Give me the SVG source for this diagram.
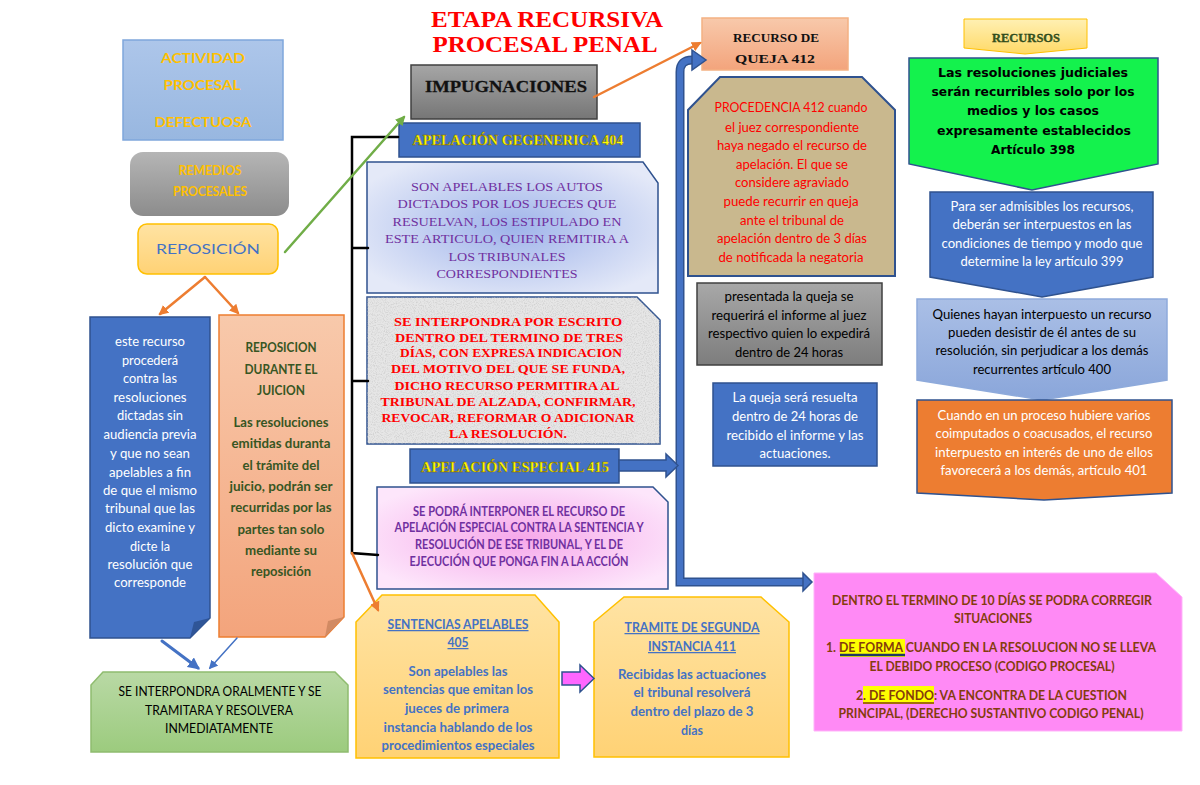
<svg xmlns="http://www.w3.org/2000/svg" width="1200" height="785" viewBox="0 0 1200 785">
<style>
text{text-anchor:middle}
.lt{font-family:Lato,"Liberation Sans",sans-serif;font-size:12.5px}
.ltb{font-family:Lato,"Liberation Sans",sans-serif;font-size:12.5px;font-weight:bold}
.sr{font-family:"Liberation Serif",serif;font-size:12.5px}
.srb{font-family:"Liberation Serif",serif;font-weight:bold}
.yel{fill:#ffff00;stroke:#7f6000;stroke-width:0.4px;font-family:"Liberation Serif",serif;font-weight:bold;font-size:14.5px}
.w{fill:#ffffff}
.k{fill:#000000}
.blue{fill:#4472c4;stroke:#2f528f;stroke-width:1.5}
.con{fill:none;stroke-linecap:round}
</style>
<defs>
<linearGradient id="gAct" x1="0" y1="0" x2="0" y2="1"><stop offset="0" stop-color="#adc6ea"/><stop offset="1" stop-color="#98b7e0"/></linearGradient>
<linearGradient id="gRem" x1="0" y1="0" x2="0" y2="1"><stop offset="0" stop-color="#b5b5b5"/><stop offset="1" stop-color="#8c8c8c"/></linearGradient>
<linearGradient id="gImp" x1="0" y1="0" x2="0" y2="1"><stop offset="0" stop-color="#a6a6a6"/><stop offset="1" stop-color="#767676"/></linearGradient>
<linearGradient id="gGr2" x1="0" y1="0" x2="0" y2="1"><stop offset="0" stop-color="#a8a8a8"/><stop offset="1" stop-color="#7d7d7d"/></linearGradient>
<linearGradient id="gYel" x1="0" y1="0" x2="0" y2="1"><stop offset="0" stop-color="#ffe3a3"/><stop offset="1" stop-color="#ffd275"/></linearGradient>
<linearGradient id="gSal" x1="0" y1="0" x2="0" y2="1"><stop offset="0" stop-color="#f8c9ab"/><stop offset="1" stop-color="#f3a47c"/></linearGradient>
<linearGradient id="gGrn" x1="0" y1="0" x2="0" y2="1"><stop offset="0" stop-color="#b9d9a5"/><stop offset="1" stop-color="#9ccb7e"/></linearGradient>
<linearGradient id="gLb" x1="0" y1="0" x2="0" y2="1"><stop offset="0" stop-color="#aabfe6"/><stop offset="1" stop-color="#8aa6da"/></linearGradient>
<linearGradient id="gRec" x1="0" y1="0" x2="0" y2="1"><stop offset="0" stop-color="#fff0b3"/><stop offset="1" stop-color="#ffd966"/></linearGradient>
<radialGradient id="gLav" cx="0.5" cy="0.5" r="0.6"><stop offset="0" stop-color="#9fb4ea"/><stop offset="1" stop-color="#e4e9f8"/></radialGradient>
<radialGradient id="gPnk" cx="0.5" cy="0.5" r="0.6"><stop offset="0" stop-color="#f6a8ea"/><stop offset="1" stop-color="#fde6fb"/></radialGradient>
<filter id="speckle" x="0" y="0" width="100%" height="100%">
<feTurbulence type="fractalNoise" baseFrequency="0.9" numOctaves="2" seed="3"/>
<feColorMatrix type="matrix" values="0 0 0 0 0.55  0 0 0 0 0.55  0 0 0 0 0.55  0 0 0 1.6 -0.7"/>
<feComposite in2="SourceGraphic" operator="in"/>
</filter>
<marker id="aO" viewBox="0 0 10 10" refX="8" refY="5" markerWidth="4" markerHeight="4" orient="auto"><path d="M0,0 L10,5 L0,10 z" fill="#ed7d31"/></marker>
<marker id="aG" viewBox="0 0 10 10" refX="8" refY="5" markerWidth="4" markerHeight="4" orient="auto"><path d="M0,0 L10,5 L0,10 z" fill="#70ad47"/></marker>
<marker id="aB" viewBox="0 0 10 10" refX="8" refY="5" markerWidth="4" markerHeight="4" orient="auto"><path d="M0,0 L10,5 L0,10 z" fill="#4472c4"/></marker>
<marker id="aB2" viewBox="0 0 10 10" refX="8" refY="5" markerWidth="6" markerHeight="6" orient="auto"><path d="M0,0 L10,5 L0,10 z" fill="#4472c4"/></marker>
</defs>

<g id="title" class="srb" fill="#ff0000" font-size="24">
<text x="547" y="27" textLength="232" lengthAdjust="spacingAndGlyphs">ETAPA RECURSIVA</text>
<text x="545" y="52" textLength="225" lengthAdjust="spacingAndGlyphs">PROCESAL PENAL</text>
</g>

<g id="actividad">
<rect x="123" y="40" width="160" height="100" fill="url(#gAct)" stroke="#7fa7dc" stroke-width="1.5"/>
<g class="ltb" fill="#ffc000" font-size="14">
<text x="203" y="63" textLength="84" lengthAdjust="spacingAndGlyphs">ACTIVIDAD</text>
<text x="202" y="90" textLength="77" lengthAdjust="spacingAndGlyphs">PROCESAL</text>
<text x="203" y="127" textLength="97" lengthAdjust="spacingAndGlyphs">DEFECTUOSA</text>
</g>
</g>

<g id="remedios">
<rect x="130" y="152" width="159" height="64" rx="13" fill="url(#gRem)"/>
<g class="ltb" fill="#ffc000" font-size="12">
<text x="210" y="175" textLength="63" lengthAdjust="spacingAndGlyphs">REMEDIOS</text>
<text x="210" y="196" textLength="74" lengthAdjust="spacingAndGlyphs">PROCESALES</text>
</g>
</g>

<g id="reposicion">
<rect x="138" y="224" width="140" height="50" rx="9" fill="url(#gYel)" stroke="#ffc000" stroke-width="1.5"/>
<text class="lt" x="208" y="254" fill="#4472c4" font-size="19" textLength="104" lengthAdjust="spacingAndGlyphs">REPOSICIÓN</text>
</g>

<g id="nota-recurso">
<polygon points="90,317 210,317 210,618 190,638 90,638" fill="#4472c4" stroke="#2f528f" stroke-width="1.5"/>
<polygon points="190,638 210,618 194,622" fill="#2f5597"/>
<g class="lt w">
<text x="150" y="346" textLength="70" lengthAdjust="spacingAndGlyphs">este recurso</text>
<text x="150" y="365" textLength="56" lengthAdjust="spacingAndGlyphs">procederá</text>
<text x="150" y="383" textLength="54" lengthAdjust="spacingAndGlyphs">contra las</text>
<text x="150" y="402" textLength="73" lengthAdjust="spacingAndGlyphs">resoluciones</text>
<text x="150" y="420" textLength="66" lengthAdjust="spacingAndGlyphs">dictadas sin</text>
<text x="150" y="439" textLength="93" lengthAdjust="spacingAndGlyphs">audiencia previa</text>
<text x="150" y="458" textLength="80" lengthAdjust="spacingAndGlyphs">y que no sean</text>
<text x="150" y="477" textLength="82" lengthAdjust="spacingAndGlyphs">apelables a fin</text>
<text x="150" y="495" textLength="94" lengthAdjust="spacingAndGlyphs">de que el mismo</text>
<text x="150" y="513" textLength="90" lengthAdjust="spacingAndGlyphs">tribunal que las</text>
<text x="150" y="532" textLength="90" lengthAdjust="spacingAndGlyphs">dicto examine y</text>
<text x="150" y="551" textLength="40" lengthAdjust="spacingAndGlyphs">dicte la</text>
<text x="150" y="569" textLength="85" lengthAdjust="spacingAndGlyphs">resolución que</text>
<text x="150" y="587" textLength="72" lengthAdjust="spacingAndGlyphs">corresponde</text>
</g>
</g>

<g id="nota-juicio">
<polygon points="219,315 344,315 344,617 325,637 219,637" fill="url(#gSal)" stroke="#ed7d31" stroke-width="1.5"/>
<polygon points="325,637 344,617 328,621" fill="#d18a63"/>
<g class="ltb" fill="#375623">
<text x="281" y="352" textLength="71" lengthAdjust="spacingAndGlyphs">REPOSICION</text>
<text x="281" y="374" textLength="73" lengthAdjust="spacingAndGlyphs">DURANTE EL</text>
<text x="281" y="395" textLength="48" lengthAdjust="spacingAndGlyphs">JUICION</text>
<text x="281" y="427" textLength="95" lengthAdjust="spacingAndGlyphs">Las resoluciones</text>
<text x="281" y="448" textLength="99" lengthAdjust="spacingAndGlyphs">emitidas duranta</text>
<text x="281" y="470" textLength="77" lengthAdjust="spacingAndGlyphs">el trámite del</text>
<text x="281" y="491" textLength="103" lengthAdjust="spacingAndGlyphs">juicio, podrán ser</text>
<text x="281" y="512" textLength="101" lengthAdjust="spacingAndGlyphs">recurridas por las</text>
<text x="281" y="534" textLength="87" lengthAdjust="spacingAndGlyphs">partes tan solo</text>
<text x="281" y="555" textLength="72" lengthAdjust="spacingAndGlyphs">mediante su</text>
<text x="281" y="576" textLength="60" lengthAdjust="spacingAndGlyphs">reposición</text>
</g>
</g>

<g id="oral">
<polygon points="103,672 335,672 348,685 348,752 91,752 91,685" fill="url(#gGrn)" stroke="#8fbc6f" stroke-width="1.5"/>
<g class="lt k" font-size="12">
<text x="220" y="696" textLength="203" lengthAdjust="spacingAndGlyphs">SE INTERPONDRA ORALMENTE Y SE</text>
<text x="219" y="715" textLength="148" lengthAdjust="spacingAndGlyphs">TRAMITARA Y RESOLVERA</text>
<text x="219" y="733" textLength="108" lengthAdjust="spacingAndGlyphs">INMEDIATAMENTE</text>
</g>
</g>

<g id="impugnaciones">
<rect x="411" y="65" width="186" height="54" fill="url(#gImp)" stroke="#404040" stroke-width="1.5"/>
<text class="srb" x="506" y="92" font-size="17" fill="#111" stroke="#111" stroke-width="0.3" textLength="162" lengthAdjust="spacingAndGlyphs">IMPUGNACIONES</text>
</g>

<g id="apelacion-generica">
<rect x="399" y="123" width="241" height="34" fill="#4472c4" stroke="#2f528f" stroke-width="1.5"/>
<text class="yel" x="518" y="145" textLength="211" lengthAdjust="spacingAndGlyphs">APELACIÓN GEGENERICA 404</text>
</g>

<g id="son-apelables">
<polygon points="367,162 643,162 658,183 658,293 367,293" fill="url(#gLav)" stroke="#2f528f" stroke-width="1.5"/>
<g class="sr" fill="#7030a0">
<text x="507" y="191" textLength="192" lengthAdjust="spacingAndGlyphs">SON APELABLES LOS AUTOS</text>
<text x="507" y="208" textLength="219" lengthAdjust="spacingAndGlyphs">DICTADOS POR LOS JUECES QUE</text>
<text x="507" y="226" textLength="229" lengthAdjust="spacingAndGlyphs">RESUELVAN, LOS ESTIPULADO EN</text>
<text x="507" y="243" textLength="244" lengthAdjust="spacingAndGlyphs">ESTE ARTICULO, QUIEN REMITIRA A</text>
<text x="507" y="261" textLength="117" lengthAdjust="spacingAndGlyphs">LOS TRIBUNALES</text>
<text x="507" y="278" textLength="141" lengthAdjust="spacingAndGlyphs">CORRESPONDIENTES</text>
</g>
</g>

<g id="por-escrito">
<polygon points="367,297 637,297 660,320 660,444 367,444" fill="#e6e6e6" stroke="#2f528f" stroke-width="1.5"/>
<polygon points="367,297 637,297 660,320 660,444 367,444" fill="#fff" filter="url(#speckle)"/>
<g class="srb" fill="#ff0000" font-size="12">
<text x="508" y="326" textLength="228" lengthAdjust="spacingAndGlyphs">SE INTERPONDRA POR ESCRITO</text>
<text x="509" y="342" textLength="228" lengthAdjust="spacingAndGlyphs">DENTRO DEL TERMINO DE TRES</text>
<text x="511" y="357" textLength="222" lengthAdjust="spacingAndGlyphs">DÍAS, CON EXPRESA INDICACION</text>
<text x="508" y="373" textLength="234" lengthAdjust="spacingAndGlyphs">DEL MOTIVO DEL QUE SE FUNDA,</text>
<text x="507" y="390" textLength="225" lengthAdjust="spacingAndGlyphs">DICHO RECURSO PERMITIRA AL</text>
<text x="508" y="406" textLength="255" lengthAdjust="spacingAndGlyphs">TRIBUNAL DE ALZADA, CONFIRMAR,</text>
<text x="508" y="422" textLength="253" lengthAdjust="spacingAndGlyphs">REVOCAR, REFORMAR O ADICIONAR</text>
<text x="508" y="438" textLength="118" lengthAdjust="spacingAndGlyphs">LA RESOLUCIÓN.</text>
</g>
</g>

<g id="apelacion-especial">
<rect x="410" y="449" width="209" height="34" fill="#4472c4" stroke="#2f528f" stroke-width="1.5"/>
<text class="yel" x="515" y="472" textLength="188" lengthAdjust="spacingAndGlyphs">APELACIÓN ESPECIAL 415</text>
</g>

<g id="se-podra">
<polygon points="377,487 653,487 668,502 668,589 377,589" fill="url(#gPnk)" stroke="#2f528f" stroke-width="1.5"/>
<g class="ltb" fill="#7030a0" font-size="11">
<text x="519" y="516" textLength="212" lengthAdjust="spacingAndGlyphs">SE PODRÁ INTERPONER EL RECURSO DE</text>
<text x="519" y="532" textLength="249" lengthAdjust="spacingAndGlyphs">APELACIÓN ESPECIAL CONTRA LA SENTENCIA Y</text>
<text x="519" y="549" textLength="208" lengthAdjust="spacingAndGlyphs">RESOLUCIÓN DE ESE TRIBUNAL, Y EL DE</text>
<text x="519" y="566" textLength="219" lengthAdjust="spacingAndGlyphs">EJECUCIÓN QUE PONGA FIN A LA ACCIÓN</text>
</g>
</g>

<g id="sentencias">
<polygon points="382,595 535,595 559,622 559,758 356,758 356,622" fill="url(#gYel)" stroke="#ffc000" stroke-width="1.5"/>
<g class="ltb" fill="#4472c4" font-size="12">
<text x="458" y="629" text-decoration="underline" textLength="141" lengthAdjust="spacingAndGlyphs">SENTENCIAS APELABLES</text>
<text x="458" y="647" text-decoration="underline" textLength="21" lengthAdjust="spacingAndGlyphs">405</text>
<text x="458" y="676" textLength="99" lengthAdjust="spacingAndGlyphs">Son apelables las</text>
<text x="458" y="694" textLength="150" lengthAdjust="spacingAndGlyphs">sentencias que emitan los</text>
<text x="457" y="713" textLength="104" lengthAdjust="spacingAndGlyphs">jueces de primera</text>
<text x="458" y="732" textLength="149" lengthAdjust="spacingAndGlyphs">instancia hablando de los</text>
<text x="458" y="750" textLength="153" lengthAdjust="spacingAndGlyphs">procedimientos especiales</text>
</g>
</g>

<g id="tramite">
<polygon points="624,597 761,597 789,622 789,757 594,757 594,622" fill="url(#gYel)" stroke="#ffc000" stroke-width="1.5"/>
<g class="ltb" fill="#4472c4" font-size="12">
<text x="692" y="632" text-decoration="underline" textLength="135" lengthAdjust="spacingAndGlyphs">TRAMITE DE SEGUNDA</text>
<text x="692" y="651" text-decoration="underline" textLength="88" lengthAdjust="spacingAndGlyphs">INSTANCIA 411</text>
<text x="692" y="679" textLength="148" lengthAdjust="spacingAndGlyphs">Recibidas las actuaciones</text>
<text x="692" y="697" textLength="117" lengthAdjust="spacingAndGlyphs">el tribunal resolverá</text>
<text x="692" y="716" textLength="123" lengthAdjust="spacingAndGlyphs">dentro del plazo de 3</text>
<text x="692" y="735" textLength="22" lengthAdjust="spacingAndGlyphs">días</text>
</g>
</g>

<g id="dentro-10-dias">
<polygon points="814,573 1156,573 1182,597 1182,731 814,731" fill="#ff8af5" stroke="#ffb3f9" stroke-width="1"/>
<rect x="840" y="639" width="65" height="18" fill="#ffff00"/>
<rect x="863" y="686" width="71" height="18" fill="#ffff00"/>
<g class="ltb" fill="#843c0c" font-size="11.5">
<text x="992" y="605" textLength="320" lengthAdjust="spacingAndGlyphs">DENTRO EL TERMINO DE 10 DÍAS SE PODRA CORREGIR</text>
<text x="993" y="623" textLength="78" lengthAdjust="spacingAndGlyphs">SITUACIONES</text>
<text x="826" y="652" style="text-anchor:start" textLength="330" lengthAdjust="spacingAndGlyphs">1. DE FORMA CUANDO EN LA RESOLUCION NO SE LLEVA</text>
<text x="992" y="671" textLength="245" lengthAdjust="spacingAndGlyphs">EL DEBIDO PROCESO (CODIGO PROCESAL)</text>
<text x="856" y="700" style="text-anchor:start" textLength="271" lengthAdjust="spacingAndGlyphs">2. DE FONDO: VA ENCONTRA DE LA CUESTION</text>
<text x="991" y="718" textLength="305" lengthAdjust="spacingAndGlyphs">PRINCIPAL, (DERECHO SUSTANTIVO CODIGO PENAL)</text>
</g>
<line x1="840" y1="655" x2="905" y2="655" stroke="#1f3864" stroke-width="2.5"/>
<line x1="863" y1="703" x2="934" y2="703" stroke="#843c0c" stroke-width="1.5"/>
</g>

<g id="recurso-queja">
<rect x="702" y="18" width="146" height="52" fill="url(#gSal)" stroke="#f4b183" stroke-width="1.5"/>
<g class="srb" fill="#111" font-size="12.5">
<text x="776" y="41.5" textLength="86" lengthAdjust="spacingAndGlyphs">RECURSO DE</text>
<text x="775" y="62.5" textLength="80" lengthAdjust="spacingAndGlyphs">QUEJA 412</text>
</g>
</g>

<g id="procedencia">
<polygon points="720,77 862,77 895,110 895,276 688,276 688,110" fill="#c9b88e" stroke="#2f528f" stroke-width="2"/>
<g class="lt" fill="#ff0000">
<text x="791" y="112" textLength="153" lengthAdjust="spacingAndGlyphs">PROCEDENCIA 412 cuando</text>
<text x="792" y="132" textLength="134" lengthAdjust="spacingAndGlyphs">el juez correspondiente</text>
<text x="792" y="150" textLength="150" lengthAdjust="spacingAndGlyphs">haya negado el recurso de</text>
<text x="792" y="169" textLength="112" lengthAdjust="spacingAndGlyphs">apelación. El que se</text>
<text x="792" y="187" textLength="114" lengthAdjust="spacingAndGlyphs">considere agraviado</text>
<text x="791" y="206" textLength="135" lengthAdjust="spacingAndGlyphs">puede recurrir en queja</text>
<text x="792" y="225" textLength="104" lengthAdjust="spacingAndGlyphs">ante el tribunal de</text>
<text x="792" y="243" textLength="150" lengthAdjust="spacingAndGlyphs">apelación dentro de 3 días</text>
<text x="791" y="262" textLength="145" lengthAdjust="spacingAndGlyphs">de notificada la negatoria</text>
</g>
</g>

<g id="presentada">
<rect x="697" y="283" width="185" height="82" fill="url(#gGr2)" stroke="#404040" stroke-width="1.5"/>
<g class="lt k">
<text x="789" y="301" textLength="129" lengthAdjust="spacingAndGlyphs">presentada la queja se</text>
<text x="789" y="320" textLength="155" lengthAdjust="spacingAndGlyphs">requerirá el informe al juez</text>
<text x="789" y="338" textLength="162" lengthAdjust="spacingAndGlyphs">respectivo quien lo expedirá</text>
<text x="789" y="357" textLength="108" lengthAdjust="spacingAndGlyphs">dentro de 24 horas</text>
</g>
</g>

<g id="resuelta">
<rect x="713" y="383" width="164" height="83" fill="#4472c4" stroke="#2f528f" stroke-width="1.5"/>
<g class="lt w">
<text x="795" y="402" textLength="125" lengthAdjust="spacingAndGlyphs">La queja será resuelta</text>
<text x="795" y="421" textLength="126" lengthAdjust="spacingAndGlyphs">dentro de 24 horas de</text>
<text x="795" y="440" textLength="137" lengthAdjust="spacingAndGlyphs">recibido el informe y las</text>
<text x="795" y="458" textLength="71" lengthAdjust="spacingAndGlyphs">actuaciones.</text>
</g>
</g>

<g id="recursos">
<polygon points="964,19 1087,19 1087,48 1025,54 964,48" fill="url(#gRec)" stroke="#ffc000" stroke-width="1"/>
<text class="srb" x="1026" y="42" font-size="13.5" fill="#385723" stroke="#1e3a10" stroke-width="0.3" textLength="68" lengthAdjust="spacingAndGlyphs">RECURSOS</text>
</g>

<g id="articulo-398">
<polygon points="909,58 1158,58 1158,164 1032,190 909,164" fill="#14f24d" stroke="#2f528f" stroke-width="1.5"/>
<g font-family="'DejaVu Sans', sans-serif" font-weight="bold" font-size="12.5" fill="#000">
<text x="1033" y="77" textLength="190" lengthAdjust="spacingAndGlyphs">Las resoluciones judiciales</text>
<text x="1033" y="96" textLength="203" lengthAdjust="spacingAndGlyphs">serán recurribles solo por los</text>
<text x="1033" y="115" textLength="132" lengthAdjust="spacingAndGlyphs">medios y los casos</text>
<text x="1034" y="135" textLength="194" lengthAdjust="spacingAndGlyphs">expresamente establecidos</text>
<text x="1033" y="154" textLength="84" lengthAdjust="spacingAndGlyphs">Artículo 398</text>
</g>
</g>

<g id="articulo-399">
<polygon points="930,192 1153,192 1153,277 1042,297 930,277" fill="#4472c4" stroke="#2f528f" stroke-width="1.5"/>
<g class="lt w">
<text x="1042" y="211" textLength="183" lengthAdjust="spacingAndGlyphs">Para ser admisibles los recursos,</text>
<text x="1042" y="229" textLength="179" lengthAdjust="spacingAndGlyphs">deberán ser interpuestos en las</text>
<text x="1042" y="248" textLength="201" lengthAdjust="spacingAndGlyphs">condiciones de tiempo y modo que</text>
<text x="1042" y="266" textLength="163" lengthAdjust="spacingAndGlyphs">determine la ley artículo 399</text>
</g>
</g>

<g id="articulo-400">
<polygon points="917,299 1167,299 1167,380 1042,400 917,380" fill="url(#gLb)" stroke="#8eaadb" stroke-width="1.5"/>
<g class="lt k">
<text x="1042" y="319" textLength="219" lengthAdjust="spacingAndGlyphs">Quienes hayan interpuesto un recurso</text>
<text x="1042" y="337" textLength="188" lengthAdjust="spacingAndGlyphs">pueden desistir de él antes de su</text>
<text x="1042" y="355" textLength="213" lengthAdjust="spacingAndGlyphs">resolución, sin perjudicar a los demás</text>
<text x="1042" y="374" textLength="138" lengthAdjust="spacingAndGlyphs">recurrentes artículo 400</text>
</g>
</g>

<g id="articulo-401">
<polygon points="917,400 1172,400 1172,493 1044,500 917,493" fill="#ed7d31" stroke="#2f528f" stroke-width="1.5"/>
<g class="lt w">
<text x="1044" y="420" textLength="213" lengthAdjust="spacingAndGlyphs">Cuando en un proceso hubiere varios</text>
<text x="1044" y="438" textLength="217" lengthAdjust="spacingAndGlyphs">coimputados o coacusados, el recurso</text>
<text x="1044" y="457" textLength="218" lengthAdjust="spacingAndGlyphs">interpuesto en interés de uno de ellos</text>
<text x="1044" y="475" textLength="207" lengthAdjust="spacingAndGlyphs">favorecerá a los demás, artículo 401</text>
</g>
</g>

<g id="connectors">
<path class="con" d="M398 137 L352 137 L352 553 L378 555 M352 248 L368 248 M352 381 L368 381" stroke="#000" stroke-width="2.5" stroke-linejoin="miter"/>
<line class="con" x1="285" y1="252" x2="404" y2="117" stroke="#70ad47" stroke-width="2.5" marker-end="url(#aG)"/>
<line class="con" x1="594" y1="97" x2="700" y2="43" stroke="#ed7d31" stroke-width="2.5" marker-end="url(#aO)"/>
<line class="con" x1="205" y1="277" x2="160" y2="314" stroke="#ed7d31" stroke-width="2.5" marker-end="url(#aO)"/>
<line class="con" x1="205" y1="277" x2="238" y2="313" stroke="#ed7d31" stroke-width="2.5" marker-end="url(#aO)"/>
<line class="con" x1="352" y1="553" x2="378" y2="610" stroke="#ed7d31" stroke-width="2.5" marker-end="url(#aO)"/>
<line class="con" x1="162" y1="641" x2="198" y2="668" stroke="#4472c4" stroke-width="3" marker-end="url(#aB)"/>
<line class="con" x1="237" y1="638" x2="210" y2="668" stroke="#4472c4" stroke-width="1.5" marker-end="url(#aB2)"/>
<path d="M692 60 Q680 60 680 72 L680 582 L803 582" fill="none" stroke="#2f528f" stroke-width="9"/>
<path d="M692 60 Q680 60 680 72 L680 582 L803 582" fill="none" stroke="#4472c4" stroke-width="6"/>
<polygon points="692,50 706,60 692,70" class="blue"/>
<polygon points="803,573 812,582 803,591" class="blue"/>
<polygon points="619,460 666,460 666,454 678,465.5 666,477 666,471 619,471" class="blue"/>
<polygon points="562,672 580,672 580,665 594,678.5 580,692 580,685 562,685" fill="#ff66ff" stroke="#2f528f" stroke-width="1.5"/>
</g>
</svg>
